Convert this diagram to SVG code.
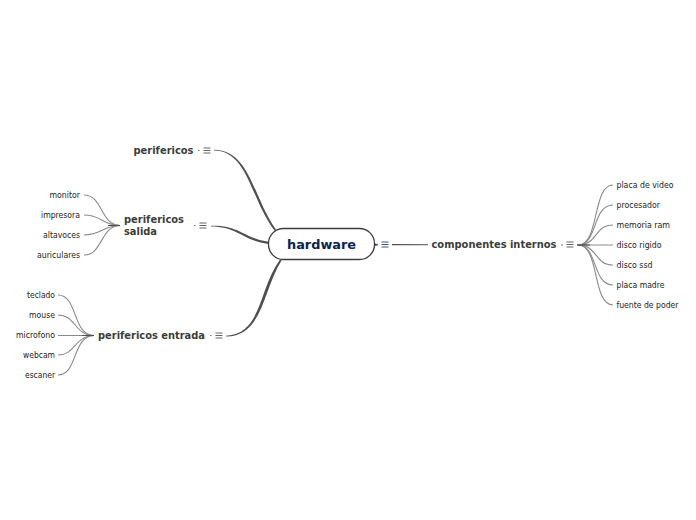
<svg xmlns="http://www.w3.org/2000/svg" width="696" height="520" viewBox="0 0 696 520">
<style>
text{font-family:"DejaVu Sans",Verdana,sans-serif}
.t{font-size:10.500px;font-weight:bold;fill:#3c3c3c}
.l{font-size:8.500px;fill:#222}
.c{fill:none;stroke:#8a8a8a;stroke-width:1.100}
.b{fill:#4f4f4f;stroke:none}
.i{fill:none;stroke:#555;stroke-width:.9}
.d{fill:none;stroke:#666;stroke-width:.9}
</style>
<defs>
<g id="menu"><path d="M0 0h7M0 2.500h7M0 5h7"/></g>
</defs>
<rect width="696" height="520" fill="#fff"/>
<g id="connectors">
<path class="b" d="M214 149.800C250 150 253 198 276 229.500L274.500 230.500C250 198 248 151 214 150.500Z"/>
<path class="b" d="M211 225.700C240 225 243 238 269 241.800L268.500 244C241 240 238 226.500 211 226.500Z"/>
<path class="b" d="M226 335.700C262 334 258 290 280 259.500L281.800 260C262 292 263 336 226 336.500Z"/>
<path class="b" d="M392 244L428 244.300V245.300H392Z"/>
<path class="b" d="M375 243.500L378 244.200V245.300L375 246Z"/>
<g id="right-leaves">
<path class="c" d="M578 245C600 245 592 185 613 185"/>
<path class="c" d="M578 245C598 245 592 205 613 205"/>
<path class="c" d="M578 245C598 245 594 225 613 225"/>
<path class="c" d="M578 245H613"/>
<path class="c" d="M578 245C598 245 594 265 613 265"/>
<path class="c" d="M578 245C598 245 592 285 613 285"/>
<path class="c" d="M578 245C600 245 592 305 613 305"/>
<path class="b" d="M577 244.200L590 244.500V245.500L577 245.800Z"/>
</g>
<g id="salida-leaves">
<path class="c" d="M120 225.500C100 225 103 195 84 195"/>
<path class="c" d="M120 225.500C102 225 102 215 84 215"/>
<path class="c" d="M120 225.500C102 226 102 235 84 235"/>
<path class="c" d="M120 225.500C100 226 103 255 84 255"/>
<path class="b" d="M108 225L120 225.100V225.900L108 226Z"/>
</g>
<g id="entrada-leaves">
<path class="c" d="M94 335.500C72 335 78 295 58 295"/>
<path class="c" d="M94 335.500C74 335 76 315 58 315"/>
<path class="c" d="M94 335.500H58"/>
<path class="c" d="M94 335.500C74 336 76 355 58 355"/>
<path class="c" d="M94 335.500C72 336 78 375 58 375"/>
<path class="b" d="M82 335L94 335.100V335.900L82 336Z"/>
</g>
</g>
<g id="hardware">
<rect x="268.500" y="228.500" width="106" height="31" rx="15" fill="#fff" stroke="#3c3c3c" stroke-width="1.300"/>
<text x="321.500" y="249" text-anchor="middle" font-size="12px" font-weight="bold" fill="#0a2350" textLength="69" lengthAdjust="spacingAndGlyphs">hardware</text>
<use href="#menu" x="381.500" y="242" fill="none" stroke="#23406e" stroke-width=".9"/>
</g>
<g id="perifericos">
<text class="t" x="133.500" y="154" textLength="60" lengthAdjust="spacingAndGlyphs">perifericos</text>
<path class="d" d="M198 150.500h1.500"/>
<use class="i" href="#menu" x="203.500" y="148"/>
</g>
<g id="perifericos-salida">
<text class="t" x="124" y="223" textLength="60" lengthAdjust="spacingAndGlyphs">perifericos</text>
<text class="t" x="124" y="235" textLength="33" lengthAdjust="spacingAndGlyphs">salida</text>
<path class="d" d="M194 225.500h1.500"/>
<use class="i" href="#menu" x="199.500" y="223"/>
</g>
<g id="perifericos-entrada">
<text class="t" x="98" y="339" textLength="107" lengthAdjust="spacingAndGlyphs">perifericos entrada</text>
<path class="d" d="M210 335.500h1.500"/>
<use class="i" href="#menu" x="215.500" y="333"/>
</g>
<g id="componentes-internos">
<text class="t" x="431.500" y="248" textLength="125" lengthAdjust="spacingAndGlyphs">componentes internos</text>
<path class="d" d="M561 245h2"/>
<use class="i" href="#menu" x="566.500" y="242"/>
</g>
<g id="monitor"><text class="l" x="80" y="198" text-anchor="end" textLength="30.500" lengthAdjust="spacingAndGlyphs">monitor</text></g>
<g id="impresora"><text class="l" x="80" y="218" text-anchor="end" textLength="39" lengthAdjust="spacingAndGlyphs">impresora</text></g>
<g id="altavoces"><text class="l" x="80" y="238" text-anchor="end" textLength="37" lengthAdjust="spacingAndGlyphs">altavoces</text></g>
<g id="auriculares"><text class="l" x="80" y="258" text-anchor="end" textLength="43" lengthAdjust="spacingAndGlyphs">auriculares</text></g>
<g id="teclado"><text class="l" x="55" y="298" text-anchor="end" textLength="28" lengthAdjust="spacingAndGlyphs">teclado</text></g>
<g id="mouse"><text class="l" x="55" y="318" text-anchor="end" textLength="26" lengthAdjust="spacingAndGlyphs">mouse</text></g>
<g id="microfono"><text class="l" x="55" y="338" text-anchor="end" textLength="39" lengthAdjust="spacingAndGlyphs">microfono</text></g>
<g id="webcam"><text class="l" x="55" y="358" text-anchor="end" textLength="32" lengthAdjust="spacingAndGlyphs">webcam</text></g>
<g id="escaner"><text class="l" x="55" y="378" text-anchor="end" textLength="30" lengthAdjust="spacingAndGlyphs">escaner</text></g>
<g id="placa-de-video"><text class="l" x="616.500" y="188" textLength="57" lengthAdjust="spacingAndGlyphs">placa de video</text></g>
<g id="procesador"><text class="l" x="616.500" y="208" textLength="43.500" lengthAdjust="spacingAndGlyphs">procesador</text></g>
<g id="memoria-ram"><text class="l" x="616.500" y="228" textLength="53.500" lengthAdjust="spacingAndGlyphs">memoria ram</text></g>
<g id="disco-rigido"><text class="l" x="616.500" y="248" textLength="45" lengthAdjust="spacingAndGlyphs">disco rigido</text></g>
<g id="disco-ssd"><text class="l" x="616.500" y="268" textLength="36" lengthAdjust="spacingAndGlyphs">disco ssd</text></g>
<g id="placa-madre"><text class="l" x="616.500" y="288" textLength="48" lengthAdjust="spacingAndGlyphs">placa madre</text></g>
<g id="fuente-de-poder"><text class="l" x="616.500" y="308" textLength="62" lengthAdjust="spacingAndGlyphs">fuente de poder</text></g>
</svg>
